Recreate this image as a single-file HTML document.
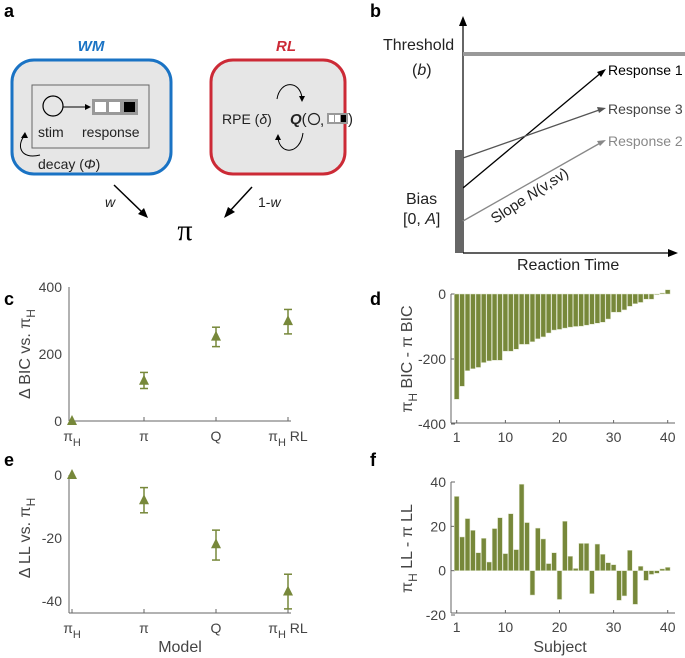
<!DOCTYPE html>
<html><head><meta charset="utf-8"><style>
body{margin:0;background:#fff;}
svg{display:block;font-family:"Liberation Sans",sans-serif;}
.ax{stroke:#666;stroke-width:1;fill:none}
.tk{fill:#444;font-size:14px}
.lab{fill:#444;font-size:16px}
.pl{font-weight:bold;font-size:18px;fill:#000}
</style></head><body>
<svg id="fig" width="685" height="658" viewBox="0 0 685 658">
<!-- Panel a -->
<g>
<text class="pl" x="4" y="17">a</text>
<text x="91" y="51" fill="#1a73c4" font-weight="bold" font-style="italic" font-size="15" text-anchor="middle">WM</text>
<rect x="12" y="60" width="159" height="114" rx="22" fill="#e6e6e6" stroke="#1a73c4" stroke-width="3"/>
<rect x="32" y="85" width="117" height="63" fill="none" stroke="#666" stroke-width="1"/>
<circle cx="53" cy="106" r="10" fill="none" stroke="#000" stroke-width="1.2"/>
<line x1="63" y1="107" x2="88" y2="107" stroke="#000"/><polygon points="91,107 85,104 85,110" fill="#000"/>
<rect x="92" y="99" width="46" height="16" fill="#999"/>
<rect x="95" y="102" width="11" height="10" fill="#fff"/><rect x="109" y="102" width="11" height="10" fill="#fff"/><rect x="124" y="102" width="11" height="10" fill="#000"/>
<text x="38" y="137" font-size="14" fill="#222">stim</text>
<text x="82" y="137" font-size="14" fill="#222">response</text>
<path d="M40,155 C20,160 16,145 25,135" fill="none" stroke="#000"/><polygon points="25,132 21,138 28,138" fill="#000"/>
<text x="38" y="169" font-size="14" fill="#222">decay (<tspan font-style="italic">Φ</tspan>)</text>
<text x="286" y="51" fill="#cc2a36" font-weight="bold" font-style="italic" font-size="15" text-anchor="middle">RL</text>
<rect x="211" y="60" width="134" height="114" rx="22" fill="#e6e6e6" stroke="#cc2a36" stroke-width="3"/>
<text x="222" y="124" font-size="14" fill="#222">RPE (<tspan font-style="italic">δ</tspan>)</text>
<text x="290" y="124" font-size="15" fill="#222"><tspan font-style="italic" font-weight="bold">Q</tspan>(</text>
<circle cx="314" cy="119" r="5.5" fill="none" stroke="#222" stroke-width="1.2"/>
<text x="320" y="125" font-size="15" fill="#222">,</text>
<rect x="327" y="113" width="21" height="11" fill="#999"/><rect x="329" y="115" width="5" height="7" fill="#fff"/><rect x="335" y="115" width="5" height="7" fill="#fff"/><rect x="341" y="115" width="5" height="7" fill="#000"/>
<text x="348" y="124" font-size="15" fill="#222">)</text>
<path d="M277,99 C280,80 300,80 302,98" fill="none" stroke="#000"/><polygon points="302,102 299,96 305,96" fill="#000"/>
<path d="M303,133 C300,155 280,155 278,138" fill="none" stroke="#000"/><polygon points="278,134 275,140 281,140" fill="#000"/>
<line x1="114" y1="185" x2="143" y2="213" stroke="#000" stroke-width="1.5"/><polygon points="148,218 138,214 144,208" fill="#000"/>
<text x="105" y="207" font-size="14" font-style="italic" fill="#222">w</text>
<line x1="252" y1="187" x2="229" y2="212" stroke="#000" stroke-width="1.5"/><polygon points="224,218 228,207 235,212" fill="#000"/>
<text x="258" y="207" font-size="14" fill="#222">1-<tspan font-style="italic">w</tspan></text>
<text x="185" y="240" font-size="30" fill="#000" text-anchor="middle" font-family="Liberation Serif,serif">π</text>
</g>
<!-- Panel b -->
<g>
<text class="pl" x="370" y="17">b</text>
<line x1="463" y1="253" x2="463" y2="24" stroke="#000" stroke-width="1.2"/><polygon points="463,16 459,26 467,26" fill="#000"/>
<line x1="463" y1="253" x2="670" y2="253" stroke="#000" stroke-width="1.2"/><polygon points="678,253 668,249 668,257" fill="#000"/>
<line x1="463" y1="54" x2="685" y2="54" stroke="#999" stroke-width="4"/>
<rect x="455" y="150" width="7" height="103" fill="#666"/>
<line x1="463" y1="188" x2="602" y2="72" stroke="#000" stroke-width="1.3"/><polygon points="606,69 597,72 601,77" fill="#000"/>
<line x1="463" y1="158" x2="602" y2="109" stroke="#555" stroke-width="1.3"/><polygon points="606,108 597,107 599,113" fill="#555"/>
<line x1="463" y1="221" x2="602" y2="142" stroke="#888" stroke-width="1.3"/><polygon points="606,140 597,141 600,146" fill="#888"/>
<text x="608" y="75" font-size="14" fill="#000">Response 1</text>
<text x="608" y="114" font-size="14" fill="#444">Response 3</text>
<text x="608" y="146" font-size="14" fill="#888">Response 2</text>
<text x="383" y="50" font-size="16" fill="#222">Threshold</text>
<text x="412" y="75" font-size="16" fill="#222">(<tspan font-style="italic">b</tspan>)</text>
<text x="406" y="204" font-size="16" fill="#222">Bias</text>
<text x="403" y="224" font-size="16" fill="#222">[0, <tspan font-style="italic">A</tspan>]</text>
<text x="0" y="0" font-size="15" fill="#222" transform="translate(495,224) rotate(-33)">Slope <tspan font-style="italic">N</tspan>(v,sv)</text>
<text x="517" y="270" font-size="16" fill="#222">Reaction Time</text>
</g>
<g id="cg"><text class="pl" x="4" y="305">c</text></g>
<g id="eg"><text class="pl" x="4" y="466">e</text></g>
<g id="dg"><text class="pl" x="370" y="305">d</text></g>
<g id="fg"><text class="pl" x="370" y="466">f</text></g>
</svg>
<script>
const models=["πH","π","Q","πH RL"];
const bicMean=[0,120,252,298];
const bicLo=[0,97,222,260];
const bicHi=[0,145,280,333];
const llMean=[0,-8,-22,-37];
const llLo=[0,-12,-27,-42.5];
const llHi=[0,-4,-17.5,-31.5];
const bicTicks=[0,200,400];
const llTicks=[0,-20,-40];
const dBic=[-324,-284,-236,-230,-226,-211,-206,-204,-204,-176,-176,-170,-155,-155,-147,-138,-132,-120,-111,-109,-105,-102,-100,-99,-96,-93,-90,-87,-77,-56,-56,-49,-38,-30,-26,-16,-16,-1,3,13];
const dLL=[33.5,15.2,23.5,18.2,8.1,14.6,3.9,19,23.9,7.7,25.7,9.5,39,21.7,-11,19.2,14.3,3.2,8.1,-13,22.3,6.5,1,12.3,12.3,-10.4,12,7.4,3.6,2.7,-13.4,-11.4,9.2,-15.2,2,-4.4,-1.7,-1.2,0.8,1.5];
const dTicks=[0,-200,-400];
const fTicks=[40,20,0,-20];
const subjTicks=[1,10,20,30,40];
const NS="http://www.w3.org/2000/svg";
const G="#77883a";
function mk(p,t,a,txt){const e=document.createElementNS(NS,t);for(const k in a)e.setAttribute(k,a[k]);if(txt!==undefined)e.textContent=txt;p.appendChild(e);return e;}
function modelLabel(g,x,y,i){
  const t=mk(g,'text',{class:'tk','text-anchor':'middle',x:x,y:y});
  
  
  const m=models[i];
  if(m.startsWith("πH")){mk(t,'tspan',{},"π");mk(t,'tspan',{dy:5,'font-size':11},"H");if(m.length>2)mk(t,'tspan',{dy:-5},m.slice(2));}
  else t.textContent=m;
}
function pointPanel(id,mean,lo,hi,ticks,ymin,ymax,top,bot,ylab,ax0){
  const g=document.getElementById(id);
  const xs=i=>72+i*72;
  const ys=v=>top+(ymax-v)/(ymax-ymin)*(bot-top);
  mk(g,'line',{class:'ax',x1:69,y1:ys(ymax),x2:69,y2:ax0});
  mk(g,'line',{class:'ax',x1:69,y1:ax0,x2:291,y2:ax0});
  ticks.forEach(v=>{const t=mk(g,'text',{class:'tk','text-anchor':'end',x:62,y:ys(v)+5},v);
    
    });
  models.forEach((m,i)=>{mk(g,'line',{class:'ax',x1:xs(i),y1:ax0,x2:xs(i),y2:ax0-4});modelLabel(g,xs(i),ax0+20,i);});
  mean.forEach((v,i)=>{const x=xs(i);
    if(hi[i]!==lo[i]){mk(g,'line',{x1:x,y1:ys(lo[i]),x2:x,y2:ys(hi[i]),stroke:G,'stroke-width':1.5});
      mk(g,'line',{x1:x-4,y1:ys(lo[i]),x2:x+4,y2:ys(lo[i]),stroke:G,'stroke-width':1.5});
      mk(g,'line',{x1:x-4,y1:ys(hi[i]),x2:x+4,y2:ys(hi[i]),stroke:G,'stroke-width':1.5});}
    const y=ys(v);
    const p=mk(g,'polygon',{points:`${x},${y-6} ${x-5},${y+4} ${x+5},${y+4}`,fill:G});
    
    });
  const yl=mk(g,'text',{class:'lab','text-anchor':'middle',transform:`translate(30,${(top+bot)/2}) rotate(-90)`});
  
  
  mk(yl,'tspan',{},ylab+" vs. π");mk(yl,'tspan',{dy:5,'font-size':12},"H");
}
pointPanel('cg',bicMean,bicLo,bicHi,bicTicks,0,400,287,421,"Δ BIC",421);
pointPanel('eg',llMean,llLo,llHi,llTicks,-40,0,475,601,"Δ LL",613);
const ml=mk(document.getElementById('eg'),'text',{class:'lab','text-anchor':'middle',x:180,y:652},"Model");


function barPanel(id,vals,ticks,ymin,ymax,top,bot,ax0,ylab){
  const g=document.getElementById(id);
  const xs=s=>456.7+(s-1)*(211/39);
  const ys=v=>top+(ymax-v)/(ymax-ymin)*(bot-top);
  mk(g,'line',{class:'ax',x1:451,y1:ys(ymax),x2:451,y2:ax0});
  mk(g,'line',{class:'ax',x1:451,y1:ax0,x2:675,y2:ax0});
  ticks.forEach(v=>{mk(g,'line',{class:'ax',x1:451,y1:ys(v),x2:455,y2:ys(v)});
    const t=mk(g,'text',{class:'tk','text-anchor':'end',x:446,y:ys(v)+5},v);
    
    });
  subjTicks.forEach(s=>{mk(g,'line',{class:'ax',x1:xs(s),y1:ax0,x2:xs(s),y2:ax0-3});
    const t=mk(g,'text',{class:'tk','text-anchor':'middle',x:xs(s),y:ax0+19},s);
    
    });
  vals.forEach((v,i)=>{const x=xs(i+1);const y0=ys(0),y1=ys(v);
    const r=mk(g,'rect',{x:x-2.4,y:Math.min(y0,y1),width:4.8,height:Math.max(Math.abs(y1-y0),0.8),fill:G,stroke:'#dfe5cc','stroke-width':0.5});
    
    });
  const yl=mk(g,'text',{class:'lab','text-anchor':'middle',transform:`translate(412,${(top+bot)/2}) rotate(-90)`});
  
  
  mk(yl,'tspan',{},"π");mk(yl,'tspan',{dy:5,'font-size':12},"H");mk(yl,'tspan',{dy:-5},ylab);
}
barPanel('dg',dBic,dTicks,-400,0,294,424,423," BIC - π BIC");
barPanel('fg',dLL,fTicks,-20,40,482,615,613," LL - π LL");
const sl=mk(document.getElementById('fg'),'text',{class:'lab','text-anchor':'middle',x:560,y:652},"Subject");


</script>
</body></html>
